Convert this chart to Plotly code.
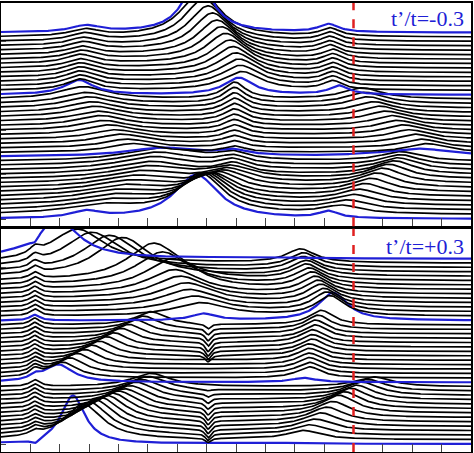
import numpy as np
import plotly.graph_objects as go
from plotly.subplots import make_subplots

# ===============================
# Data (x in 0..16 units, curve i sits at offset i)
# ===============================
n_curves = 43
blue_idx = [0, 14, 28, 42]
fermi_x = 12.0

# ---- top panel (t'/t = -0.3) ----
top_a_pos = [6.65, 6.8, 6.9, 7.0, 7.1, 7.2, 7.4, 7.6, 7.7, 7.8, 7.9, 7.9, 7.9, 7.9, 7.9,
             7.95, 7.95, 7.95, 7.95, 7.95, 7.95, 7.95, 7.95, 7.95, 7.95, 7.95, 7.95, 7.95,
             8.1, 8.2, 8.15, 8.1, 8.0, 7.9, 7.8, 7.65, 7.5, 7.35, 7.2, 7.05, 6.9, 6.8, 6.7]
top_a_h = [10, 9, 8, 7, 6, 5, 4.2, 3.5, 3, 2.5, 2.2, 2, 1.8, 1.6, 1.2,
           1.3, 1.5, 1.7, 1.9, 2.1, 2.3, 2.5, 2.7, 2.9, 3.1, 3.3, 3.5, 3.7,
           3.8, 4.2, 4.6, 5, 5.4, 5.8, 6.3, 6.8, 7.3, 7.8, 8.4, 9, 9.6, 10.3, 12]
top_a_w = [0.9] * 10 + [0.6] * 5 + [0.45] * 13 + [0.6] + [0.8] * 13 + [0.6]

top_b_pos = [2.9, 3.5, 3.7, 3.9, 4.0, 4.2, 4.4, 4.6, 4.8, 5.0, 5.1, 5.2, 5.3, 5.5, 5.5,
             4.5, 4.3, 4.1, 3.9, 3.7, 3.5, 3.4, 3.3, 3.2, 3.1, 3.0, 2.9, 2.8,
             2.65, 2.7, 2.7, 2.7, 2.7, 2.7, 2.7, 2.7, 2.75, 2.75, 2.8, 2.8, 2.85, 2.85, 2.9]
top_b_h = [1.5, 2.0, 2.1, 2.2, 2.3, 2.4, 2.5, 2.6, 2.7, 2.8, 2.9, 3.0, 3.0, 3.0, 2.0,
           2.0, 2.0, 2.1, 2.1, 2.2, 2.2, 2.3, 2.3, 2.4, 2.4, 2.5, 2.5, 2.8,
           3.3, 2.5, 2.4, 2.3, 2.2, 2.1, 2.0, 2.0, 1.9, 1.8, 1.8, 1.7, 1.7, 1.6, 1.5]
top_b_w = [0.6] + [1.5] * 14 + [1.0] * 13 + [0.6] * 15

top_c_pos = [11.15, 11.6, 11.8, 12.0, 12.2, 12.4, 12.6, 12.8, 13.0, 13.2, 13.4, 13.5, 13.6, 13.6, 14.2,
             14.5, 14.3, 14.1, 13.9, 13.7, 13.5, 13.3, 13.1, 12.9, 12.7, 12.5, 12.4, 12.3,
             11.5, 11.3, 11.3, 11.3, 11.3, 11.3, 11.3, 11.3, 11.3, 11.2, 11.2, 11.2, 11.2, 11.2, 11.15]
top_c_h = [1.5, 1.8, 2.0, 2.3, 2.5, 2.8, 3.0, 3.2, 3.3, 3.2, 3.0, 2.7, 2.4, 2.1, 1.8,
           2.0, 2.0, 2.1, 2.1, 2.2, 2.2, 2.3, 2.3, 2.4, 2.4, 2.5, 2.5, 2.5,
           2.0, 2.0, 2.0, 2.0, 2.0, 2.0, 2.0, 2.0, 2.0, 2.0, 1.9, 1.9, 1.9, 1.8, 1.8]
top_c_w = [0.4] + [0.8] * 13 + [1.5] + [0.8] * 13 + [0.4] * 15

# ---- bottom panel (t'/t = +0.3) ----
bot_a_pos = [2.45, 2.8, 3.0, 3.2, 3.4, 3.6, 3.8, 4.0, 4.2, 4.4, 4.6, 4.8, 5.0, 5.1, 1.95,
             2.1, 2.35, 2.6, 2.85, 3.1, 3.35, 3.6, 3.85, 4.1, 4.35, 4.6, 4.85, 5.1,
             6.9, 6.8, 6.6, 6.4, 6.3, 6.1, 5.9, 5.85, 5.5, 5.2, 4.15, 3.7, 3.1, 2.6, 1.9]
bot_a_h = [11, 8, 7.5, 7, 6.5, 6, 5.5, 5, 4.5, 4.2, 4, 3.6, 3.3, 3, 4,
           3.5, 3.5, 3.5, 3.4, 3.4, 3.3, 3.3, 3.2, 3.2, 3.1, 3.1, 3.0, 3.0,
           1.5, 3, 3.5, 4, 4.5, 5, 5.5, 7, 7.5, 8.5, 8.8, 8.3, 8, 7.7, 9]
bot_a_w = [0.5] + [0.8] * 13 + [0.6] * 14 + [0.5] + [1.1] * 13 + [0.9]

bot_c_pos = [8.8, 10.3, 10.5, 10.7, 10.9, 11.1, 11.3, 11.5, 11.7, 11.9, 12.1, 12.3, 12.5, 12.7, 10.3,
             10.5, 10.5, 10.5, 10.5, 10.5, 10.5, 10.6, 10.6, 10.6, 10.7, 10.7, 10.8, 10.9,
             11.3, 11.2, 11.1, 11.0, 10.9, 10.8, 10.7, 10.6, 10.5, 10.4, 10.4, 10.3, 10.3, 10.2, 8.5]
bot_c_h = [0.3, 2, 2.3, 2.6, 3, 3.3, 3.6, 4, 3.8, 3.6, 3.3, 3, 2.6, 2.2, 1,
           2.5, 2.5, 2.6, 2.6, 2.7, 2.7, 2.8, 2.8, 2.9, 3, 3.1, 3.2, 3.3,
           6.3, 4.5, 4.3, 4.1, 4, 3.9, 3.8, 3.7, 3.6, 3.5, 3.4, 3.3, 3.2, 3.1, 0.3]
bot_c_w = [1.5] + [0.7] * 13 + [0.5] * 14 + [0.6] + [0.6] * 13 + [1.5]

bot_dip_h = [0, -1, -1.5, -2, -2, -2, -2, -2, -1.8, -1.5, -1.2, -0.8, -0.4, 0, 0,
             0, 0, 0, 0, 0, -1.5, -2, -2.2, -2.2, -2, -1.8, -1.5, -1.2,
             0, 0, 0, 0, 0, 0, 0, 0, 0, 0, 0, 0, 0, 0, 0]
bot_dip_pos = 7.05

bot_spike_h = [-1.2, 1, 1.2, 1.2, 1.3, 1.3, 1.4, 1.4, 1.4, 1.5, 1.5, 1.5, 1.5, 1.5, 1.0,
               1.5, 1.5, 1.5, 1.5, 1.5, 1.5, 1.5, 1.5, 1.5, 1.5, 1.5, 1.5, 1.5,
               1.3, 1.5, 1.5, 1.5, 1.5, 1.5, 1.5, 1.5, 1.5, 1.5, 1.5, 1.5, 1.5, 1.5, -1.5]
bot_spike_pos = 1.15


def lor(x, x0, h, w):
    return h * w ** 2 / ((x - x0) ** 2 + w ** 2)


x = np.linspace(0, 16, 481)

fig = make_subplots(rows=2, cols=1, shared_xaxes=True, vertical_spacing=0.006)

for i in range(n_curves):
    blue = i in blue_idx
    line = dict(color="#1f1fd6" if blue else "black", width=2.2 if blue else 1.7)
    y_top = (i + lor(x, top_a_pos[i], top_a_h[i], top_a_w[i])
             + lor(x, top_b_pos[i], top_b_h[i], top_b_w[i])
             + lor(x, top_c_pos[i], top_c_h[i], top_c_w[i]))
    y_bot = (i + lor(x, bot_a_pos[i], bot_a_h[i], bot_a_w[i])
             + lor(x, bot_c_pos[i], bot_c_h[i], bot_c_w[i])
             + lor(x, bot_dip_pos, bot_dip_h[i], 0.12)
             + lor(x, bot_spike_pos, bot_spike_h[i], 0.2))
    fig.add_trace(go.Scatter(x=x, y=y_top, mode="lines", line=line, showlegend=False), row=1, col=1)
    fig.add_trace(go.Scatter(x=x, y=y_bot, mode="lines", line=line, showlegend=False), row=2, col=1)

axis_style = dict(showgrid=False, zeroline=False, showline=True, linecolor="black",
                  linewidth=2, mirror=True, ticks="inside", showticklabels=False)
fig.update_xaxes(range=[0, 16], dtick=1, ticklen=8, **axis_style)
fig.update_yaxes(dtick=10, ticklen=5, **axis_style)
fig.update_yaxes(range=[-1.6, 48.7], row=1, col=1)
fig.update_yaxes(range=[-1.8, 48.8], row=2, col=1)

for xr in ["x", "x2"]:
    yr = "y domain" if xr == "x" else "y2 domain"
    fig.add_shape(type="line", xref=xr, yref=yr, x0=fermi_x, x1=fermi_x, y0=0, y1=1,
                  line=dict(color="#e02020", width=2.5, dash="dash"))

fig.add_annotation(text="t’/t=-0.3", xref="paper", yref="paper", x=0.99, y=0.998,
                   xanchor="right", yanchor="top", showarrow=False,
                   font=dict(family="Liberation Serif", size=22, color="#1f1fd6"))
fig.add_annotation(text="t’/t=+0.3", xref="paper", yref="paper", x=0.99, y=0.49,
                   xanchor="right", yanchor="top", showarrow=False,
                   font=dict(family="Liberation Serif", size=22, color="#1f1fd6"))

fig.update_layout(width=474, height=453, margin=dict(l=1, r=1, t=1, b=1),
                  plot_bgcolor="white", paper_bgcolor="white")

fig.write_html("out.html", config={"displayModeBar": False})

# drop the default page margin so the 474x453 figure fits the window
with open("out.html", encoding="utf-8") as f:
    page = f.read()
page = page.replace("<body>", '<body style="margin:0;overflow:hidden">', 1)
with open("out.html", "w", encoding="utf-8") as f:
    f.write(page)
